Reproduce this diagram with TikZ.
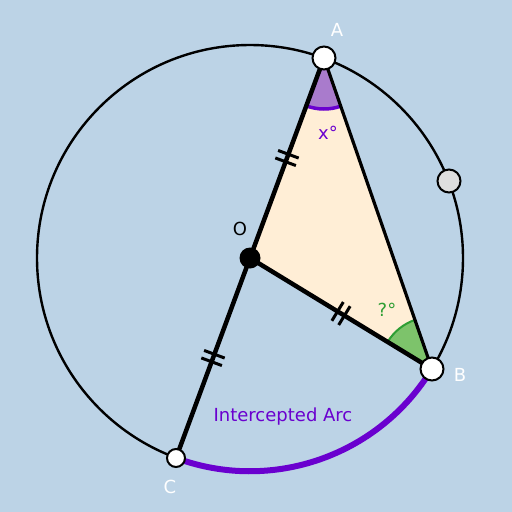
\documentclass[tikz,border=0pt]{standalone}
\usepackage{fontspec}
\setmainfont{DejaVu Sans}
\usetikzlibrary{angles,decorations.markings}
\definecolor{bgblue}{HTML}{BCD3E6}
\definecolor{trifill}{HTML}{FFEED6}
\definecolor{arcpurple}{HTML}{6A00CF}
\definecolor{xfill}{HTML}{A97BCC}
\definecolor{qgreen}{HTML}{2E9E34}
\definecolor{qfill}{HTML}{7DC36B}
\begin{document}
\begin{tikzpicture}
      [x = 1pt, y = -1pt, line width = 2pt, font = \fontsize{18}{22}\selectfont,
       pt/.style = {circle, draw, line width = 2pt, fill = white, inner sep = 0pt, minimum size = #1},
       ticks/.style = {postaction = decorate, decoration = {markings, mark = at position .5 with
         {\draw[line width = 3pt] (-4pt,-11pt) -- (-4pt,11pt) (4pt,-11pt) -- (4pt,11pt);}}}]
      \fill[bgblue] (0,0) rectangle (512,512);
      \useasboundingbox (0,0) rectangle (512,512);
      \coordinate (O) at (250,258);
      \coordinate (A) at (324,58);
      \coordinate (B) at (432,369);
      \coordinate (C) at (176,458);
      \coordinate (D) at (449,181);
      % triangle and angles
      \fill[trifill] (O) -- (A) -- (B) -- cycle;
      \pic[draw = arcpurple, fill = xfill, line width = 3.5pt, angle radius = 51pt] {angle = O--A--B};
      \pic[draw = qgreen, fill = qfill, line width = 2pt, angle radius = 52pt] {angle = A--B--O};
      \draw[line width = 2.4pt] (O) circle[radius = 213];
      \draw[line width = 4.5pt, ticks] (O) -- (A);
      \draw[line width = 4.5pt, ticks] (O) -- (B);
      \draw[line width = 4.5pt, ticks] (O) -- (C);
      \draw[line width = 3.2pt] (A) -- (B);
      \draw[arcpurple, line width = 6pt] (C) arc[start angle = 110.3, end angle = 31.4, radius = 213];
      % points
      \node[pt = 23pt] (pA) at (A) {};
      \node[pt = 23pt] (pB) at (B) {};
      \node[pt = 18pt] (pC) at (C) {};
      \node[pt = 23pt, fill = black!13] (pD) at (D) {};
      \node[circle, fill = black, inner sep = 0pt, minimum size = 21pt] (pO) at (O) {};
      % labels
      \node[white] (labA) at (337,30) {A};
      \node[white] (labB) at (460,375) {B};
      \node[white] (labC) at (170,487) {C};
      \node (labO) at (240,229) {O};
      \node[arcpurple] (labx) at (328,133) {x°};
      \node[qgreen] (labq) at (387,310) {?°};
      \node[arcpurple] (labarc) at (283,417) {Intercepted Arc};
    \end{tikzpicture}
\end{document}
